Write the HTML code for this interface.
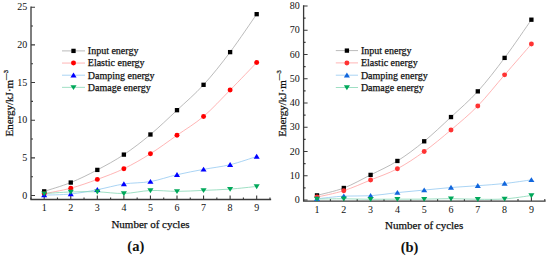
<!DOCTYPE html>
<html><head><meta charset="utf-8"><style>
html,body{margin:0;padding:0;background:#fff;width:550px;height:258px;overflow:hidden}
svg{display:block}
text{font-family:"Liberation Serif", serif;fill:#111;stroke:#111;stroke-width:0.25px}
</style></head><body>
<svg width="550" height="258" viewBox="0 0 550 258">
<rect width="550" height="258" fill="#fff"/>
<path d="M31.00,7.20 V199.50 H270.50" fill="none" stroke="#3a3a3a" stroke-width="1.3" stroke-linecap="square"/>
<text x="27.30" y="198.70" text-anchor="end" font-size="10" style="stroke:none">0</text>
<text x="27.30" y="161.05" text-anchor="end" font-size="10" style="stroke:none">5</text>
<text x="27.30" y="123.40" text-anchor="end" font-size="10" style="stroke:none">10</text>
<text x="27.30" y="85.75" text-anchor="end" font-size="10" style="stroke:none">15</text>
<text x="27.30" y="48.10" text-anchor="end" font-size="10" style="stroke:none">20</text>
<text x="27.30" y="10.45" text-anchor="end" font-size="10" style="stroke:none">25</text>
<text x="44.20" y="211.00" text-anchor="middle" font-size="10" style="stroke:none">1</text>
<text x="70.76" y="211.00" text-anchor="middle" font-size="10" style="stroke:none">2</text>
<text x="97.32" y="211.00" text-anchor="middle" font-size="10" style="stroke:none">3</text>
<text x="123.88" y="211.00" text-anchor="middle" font-size="10" style="stroke:none">4</text>
<text x="150.44" y="211.00" text-anchor="middle" font-size="10" style="stroke:none">5</text>
<text x="177.00" y="211.00" text-anchor="middle" font-size="10" style="stroke:none">6</text>
<text x="203.56" y="211.00" text-anchor="middle" font-size="10" style="stroke:none">7</text>
<text x="230.12" y="211.00" text-anchor="middle" font-size="10" style="stroke:none">8</text>
<text x="256.68" y="211.00" text-anchor="middle" font-size="10" style="stroke:none">9</text>
<path d="M31.00,195.50 h4.00 M31.00,176.68 h2.00 M31.00,157.85 h4.00 M31.00,139.03 h2.00 M31.00,120.20 h4.00 M31.00,101.38 h2.00 M31.00,82.55 h4.00 M31.00,63.72 h2.00 M31.00,44.90 h4.00 M31.00,26.07 h2.00 M31.00,7.25 h4.00 M44.20,199.50 v-4.00 M70.76,199.50 v-4.00 M97.32,199.50 v-4.00 M123.88,199.50 v-4.00 M150.44,199.50 v-4.00 M177.00,199.50 v-4.00 M203.56,199.50 v-4.00 M230.12,199.50 v-4.00 M256.68,199.50 v-4.00 M30.92,199.50 v-2.00 M57.48,199.50 v-2.00 M84.04,199.50 v-2.00 M110.60,199.50 v-2.00 M137.16,199.50 v-2.00 M163.72,199.50 v-2.00 M190.28,199.50 v-2.00 M216.84,199.50 v-2.00 M243.40,199.50 v-2.00 M269.96,199.50 v-2.00" fill="none" stroke="#3a3a3a" stroke-width="1.1"/>
<path d="M44.20,191.36 C48.63,189.89 61.91,186.13 70.76,182.55 C79.61,178.97 88.47,174.55 97.32,169.90 C106.17,165.24 115.03,160.51 123.88,154.61 C132.73,148.71 141.59,141.91 150.44,134.51 C159.29,127.10 168.15,118.47 177.00,110.19 C185.85,101.90 194.71,94.49 203.56,84.81 C212.41,75.13 221.27,63.90 230.12,52.13 C238.97,40.36 252.25,20.50 256.68,14.18" fill="none" stroke="#a4a4a4" stroke-width="0.75"/>
<path d="M44.20,193.69 C48.63,192.78 61.91,190.58 70.76,188.20 C79.61,185.81 88.47,182.64 97.32,179.39 C106.17,176.14 115.03,172.97 123.88,168.69 C132.73,164.41 141.59,159.28 150.44,153.71 C159.29,148.14 168.15,141.47 177.00,135.26 C185.85,129.05 194.71,123.97 203.56,116.44 C212.41,108.91 221.27,99.05 230.12,90.08 C238.97,81.11 252.25,67.18 256.68,62.60" fill="none" stroke="#ff9c9c" stroke-width="0.75"/>
<path d="M44.20,195.12 C48.63,194.94 61.91,194.90 70.76,193.99 C79.61,193.09 88.47,191.37 97.32,189.70 C106.17,188.03 115.03,185.33 123.88,183.98 C132.73,182.62 141.59,183.11 150.44,181.57 C159.29,180.03 168.15,176.75 177.00,174.72 C185.85,172.68 194.71,171.04 203.56,169.37 C212.41,167.70 221.27,166.85 230.12,164.70 C238.97,162.56 252.25,157.86 256.68,156.49" fill="none" stroke="#8ec6f0" stroke-width="0.75"/>
<path d="M44.20,193.62 C48.63,193.34 61.91,192.26 70.76,191.96 C79.61,191.66 88.47,191.56 97.32,191.81 C106.17,192.06 115.03,193.68 123.88,193.47 C132.73,193.25 141.59,190.88 150.44,190.53 C159.29,190.18 168.15,191.38 177.00,191.36 C185.85,191.33 194.71,190.76 203.56,190.38 C212.41,190.00 221.27,189.75 230.12,189.10 C238.97,188.45 252.25,186.90 256.68,186.46" fill="none" stroke="#7fd4b0" stroke-width="0.75"/>
<rect x="42.04" y="189.20" width="4.32" height="4.32" fill="#000000"/>
<rect x="68.60" y="180.39" width="4.32" height="4.32" fill="#000000"/>
<rect x="95.16" y="167.74" width="4.32" height="4.32" fill="#000000"/>
<rect x="121.72" y="152.45" width="4.32" height="4.32" fill="#000000"/>
<rect x="148.28" y="132.34" width="4.32" height="4.32" fill="#000000"/>
<rect x="174.84" y="108.02" width="4.32" height="4.32" fill="#000000"/>
<rect x="201.40" y="82.65" width="4.32" height="4.32" fill="#000000"/>
<rect x="227.96" y="49.97" width="4.32" height="4.32" fill="#000000"/>
<rect x="254.52" y="12.02" width="4.32" height="4.32" fill="#000000"/>
<circle cx="44.20" cy="193.69" r="2.48" fill="#ff0000"/>
<circle cx="70.76" cy="188.20" r="2.48" fill="#ff0000"/>
<circle cx="97.32" cy="179.39" r="2.48" fill="#ff0000"/>
<circle cx="123.88" cy="168.69" r="2.48" fill="#ff0000"/>
<circle cx="150.44" cy="153.71" r="2.48" fill="#ff0000"/>
<circle cx="177.00" cy="135.26" r="2.48" fill="#ff0000"/>
<circle cx="203.56" cy="116.44" r="2.48" fill="#ff0000"/>
<circle cx="230.12" cy="90.08" r="2.48" fill="#ff0000"/>
<circle cx="256.68" cy="62.60" r="2.48" fill="#ff0000"/>
<path d="M44.20,192.46 L47.24,197.33 L41.16,197.33 Z" fill="#0000ff"/>
<path d="M70.76,191.33 L73.80,196.20 L67.72,196.20 Z" fill="#0000ff"/>
<path d="M97.32,187.03 L100.36,191.91 L94.28,191.91 Z" fill="#0000ff"/>
<path d="M123.88,181.31 L126.92,186.19 L120.84,186.19 Z" fill="#0000ff"/>
<path d="M150.44,178.90 L153.48,183.78 L147.40,183.78 Z" fill="#0000ff"/>
<path d="M177.00,172.05 L180.04,176.93 L173.96,176.93 Z" fill="#0000ff"/>
<path d="M203.56,166.70 L206.60,171.58 L200.52,171.58 Z" fill="#0000ff"/>
<path d="M230.12,162.03 L233.16,166.91 L227.08,166.91 Z" fill="#0000ff"/>
<path d="M256.68,153.83 L259.72,158.70 L253.64,158.70 Z" fill="#0000ff"/>
<path d="M44.20,196.29 L47.24,191.41 L41.16,191.41 Z" fill="#00a85a"/>
<path d="M70.76,194.63 L73.80,189.75 L67.72,189.75 Z" fill="#00a85a"/>
<path d="M97.32,194.48 L100.36,189.60 L94.28,189.60 Z" fill="#00a85a"/>
<path d="M123.88,196.13 L126.92,191.26 L120.84,191.26 Z" fill="#00a85a"/>
<path d="M150.44,193.20 L153.48,188.32 L147.40,188.32 Z" fill="#00a85a"/>
<path d="M177.00,194.03 L180.04,189.15 L173.96,189.15 Z" fill="#00a85a"/>
<path d="M203.56,193.05 L206.60,188.17 L200.52,188.17 Z" fill="#00a85a"/>
<path d="M230.12,191.77 L233.16,186.89 L227.08,186.89 Z" fill="#00a85a"/>
<path d="M256.68,189.13 L259.72,184.26 L253.64,184.26 Z" fill="#00a85a"/>
<text x="150.50" y="227.50" text-anchor="middle" font-size="11.0">Number of cycles</text>
<text transform="translate(13.20,136.50) rotate(-90)" font-size="11.0">Energy/kJ&#183;m<tspan dy="-5.0" font-size="6.6">&#8212;3</tspan></text>
<path d="M62.00,50.90 H85.00" stroke="#a4a4a4" stroke-width="0.75"/>
<rect x="71.34" y="48.74" width="4.32" height="4.32" fill="#000000"/>
<text x="87.80" y="54.30" font-size="10">Input energy</text>
<path d="M62.00,63.05 H85.00" stroke="#ff9c9c" stroke-width="0.75"/>
<circle cx="73.50" cy="63.05" r="2.48" fill="#ff0000"/>
<text x="87.80" y="66.45" font-size="10">Elastic energy</text>
<path d="M62.00,75.20 H85.00" stroke="#8ec6f0" stroke-width="0.75"/>
<path d="M73.50,72.53 L76.54,77.41 L70.46,77.41 Z" fill="#0000ff"/>
<text x="87.80" y="78.60" font-size="10">Damping energy</text>
<path d="M62.00,87.35 H85.00" stroke="#7fd4b0" stroke-width="0.75"/>
<path d="M73.50,90.02 L76.54,85.14 L70.46,85.14 Z" fill="#00a85a"/>
<text x="87.80" y="90.75" font-size="10">Damage energy</text>
<text x='135.80' y='251.00' text-anchor='middle' font-size='14.5' font-weight='bold' style='stroke:none;font-family:"Liberation Serif", serif'>(a)</text>
<path d="M303.60,6.00 V201.10 H545.00" fill="none" stroke="#3a3a3a" stroke-width="1.3" stroke-linecap="square"/>
<text x="299.80" y="203.20" text-anchor="end" font-size="10" style="stroke:none">0</text>
<text x="299.80" y="178.95" text-anchor="end" font-size="10" style="stroke:none">10</text>
<text x="299.80" y="154.70" text-anchor="end" font-size="10" style="stroke:none">20</text>
<text x="299.80" y="130.45" text-anchor="end" font-size="10" style="stroke:none">30</text>
<text x="299.80" y="106.20" text-anchor="end" font-size="10" style="stroke:none">40</text>
<text x="299.80" y="81.95" text-anchor="end" font-size="10" style="stroke:none">50</text>
<text x="299.80" y="57.70" text-anchor="end" font-size="10" style="stroke:none">60</text>
<text x="299.80" y="33.45" text-anchor="end" font-size="10" style="stroke:none">70</text>
<text x="299.80" y="9.20" text-anchor="end" font-size="10" style="stroke:none">80</text>
<text x="317.00" y="213.00" text-anchor="middle" font-size="10" style="stroke:none">1</text>
<text x="343.80" y="213.00" text-anchor="middle" font-size="10" style="stroke:none">2</text>
<text x="370.60" y="213.00" text-anchor="middle" font-size="10" style="stroke:none">3</text>
<text x="397.40" y="213.00" text-anchor="middle" font-size="10" style="stroke:none">4</text>
<text x="424.20" y="213.00" text-anchor="middle" font-size="10" style="stroke:none">5</text>
<text x="451.00" y="213.00" text-anchor="middle" font-size="10" style="stroke:none">6</text>
<text x="477.80" y="213.00" text-anchor="middle" font-size="10" style="stroke:none">7</text>
<text x="504.60" y="213.00" text-anchor="middle" font-size="10" style="stroke:none">8</text>
<text x="531.40" y="213.00" text-anchor="middle" font-size="10" style="stroke:none">9</text>
<path d="M303.60,200.00 h4.00 M303.60,187.88 h2.00 M303.60,175.75 h4.00 M303.60,163.62 h2.00 M303.60,151.50 h4.00 M303.60,139.38 h2.00 M303.60,127.25 h4.00 M303.60,115.12 h2.00 M303.60,103.00 h4.00 M303.60,90.88 h2.00 M303.60,78.75 h4.00 M303.60,66.62 h2.00 M303.60,54.50 h4.00 M303.60,42.38 h2.00 M303.60,30.25 h4.00 M303.60,18.12 h2.00 M303.60,6.00 h4.00 M317.00,201.10 v-4.00 M343.80,201.10 v-4.00 M370.60,201.10 v-4.00 M397.40,201.10 v-4.00 M424.20,201.10 v-4.00 M451.00,201.10 v-4.00 M477.80,201.10 v-4.00 M504.60,201.10 v-4.00 M531.40,201.10 v-4.00 M303.60,201.10 v-2.00 M330.40,201.10 v-2.00 M357.20,201.10 v-2.00 M384.00,201.10 v-2.00 M410.80,201.10 v-2.00 M437.60,201.10 v-2.00 M464.40,201.10 v-2.00 M491.20,201.10 v-2.00 M518.00,201.10 v-2.00 M544.80,201.10 v-2.00" fill="none" stroke="#3a3a3a" stroke-width="1.1"/>
<path d="M317.00,195.39 C321.47,194.16 334.87,191.41 343.80,188.00 C352.73,184.58 361.67,179.41 370.60,174.90 C379.53,170.39 388.47,166.56 397.40,160.96 C406.33,155.36 415.27,148.63 424.20,141.31 C433.13,134.00 442.07,125.39 451.00,117.06 C459.93,108.74 468.87,101.22 477.80,91.36 C486.73,81.50 495.67,69.84 504.60,57.90 C513.53,45.95 526.93,26.07 531.40,19.70" fill="none" stroke="#a4a4a4" stroke-width="0.75"/>
<path d="M317.00,197.09 C321.47,196.02 334.87,193.51 343.80,190.66 C352.73,187.81 361.67,183.65 370.60,179.99 C379.53,176.34 388.47,173.47 397.40,168.72 C406.33,163.97 415.27,157.97 424.20,151.50 C433.13,145.03 442.07,137.52 451.00,129.92 C459.93,122.32 468.87,115.08 477.80,105.91 C486.73,96.74 495.67,85.18 504.60,74.87 C513.53,64.56 526.93,49.21 531.40,44.07" fill="none" stroke="#ff9c9c" stroke-width="0.75"/>
<path d="M317.00,198.79 C321.47,198.34 334.87,196.63 343.80,196.12 C352.73,195.61 361.67,196.34 370.60,195.76 C379.53,195.17 388.47,193.55 397.40,192.60 C406.33,191.65 415.27,190.91 424.20,190.06 C433.13,189.21 442.07,188.24 451.00,187.51 C459.93,186.78 468.87,186.36 477.80,185.69 C486.73,185.03 495.67,184.48 504.60,183.51 C513.53,182.54 526.93,180.48 531.40,179.87" fill="none" stroke="#8ec6f0" stroke-width="0.75"/>
<path d="M317.00,199.03 C321.47,198.99 334.87,198.75 343.80,198.79 C352.73,198.83 361.67,199.21 370.60,199.27 C379.53,199.33 388.47,199.17 397.40,199.15 C406.33,199.13 415.27,199.23 424.20,199.15 C433.13,199.07 442.07,198.65 451.00,198.67 C459.93,198.69 468.87,199.23 477.80,199.27 C486.73,199.31 495.67,199.54 504.60,198.91 C513.53,198.28 526.93,196.08 531.40,195.51" fill="none" stroke="#7fd4b0" stroke-width="0.75"/>
<rect x="314.84" y="193.23" width="4.32" height="4.32" fill="#000000"/>
<rect x="341.64" y="185.83" width="4.32" height="4.32" fill="#000000"/>
<rect x="368.44" y="172.74" width="4.32" height="4.32" fill="#000000"/>
<rect x="395.24" y="158.80" width="4.32" height="4.32" fill="#000000"/>
<rect x="422.04" y="139.15" width="4.32" height="4.32" fill="#000000"/>
<rect x="448.84" y="114.90" width="4.32" height="4.32" fill="#000000"/>
<rect x="475.64" y="89.20" width="4.32" height="4.32" fill="#000000"/>
<rect x="502.44" y="55.73" width="4.32" height="4.32" fill="#000000"/>
<rect x="529.24" y="17.54" width="4.32" height="4.32" fill="#000000"/>
<circle cx="317.00" cy="197.09" r="2.48" fill="#ff3333"/>
<circle cx="343.80" cy="190.66" r="2.48" fill="#ff3333"/>
<circle cx="370.60" cy="179.99" r="2.48" fill="#ff3333"/>
<circle cx="397.40" cy="168.72" r="2.48" fill="#ff3333"/>
<circle cx="424.20" cy="151.50" r="2.48" fill="#ff3333"/>
<circle cx="451.00" cy="129.92" r="2.48" fill="#ff3333"/>
<circle cx="477.80" cy="105.91" r="2.48" fill="#ff3333"/>
<circle cx="504.60" cy="74.87" r="2.48" fill="#ff3333"/>
<circle cx="531.40" cy="44.07" r="2.48" fill="#ff3333"/>
<path d="M317.00,196.12 L320.04,201.00 L313.96,201.00 Z" fill="#1166dd"/>
<path d="M343.80,193.45 L346.84,198.33 L340.76,198.33 Z" fill="#1166dd"/>
<path d="M370.60,193.09 L373.64,197.96 L367.56,197.96 Z" fill="#1166dd"/>
<path d="M397.40,189.94 L400.44,194.81 L394.36,194.81 Z" fill="#1166dd"/>
<path d="M424.20,187.39 L427.24,192.27 L421.16,192.27 Z" fill="#1166dd"/>
<path d="M451.00,184.84 L454.04,189.72 L447.96,189.72 Z" fill="#1166dd"/>
<path d="M477.80,183.02 L480.84,187.90 L474.76,187.90 Z" fill="#1166dd"/>
<path d="M504.60,180.84 L507.64,185.72 L501.56,185.72 Z" fill="#1166dd"/>
<path d="M531.40,177.20 L534.44,182.08 L528.36,182.08 Z" fill="#1166dd"/>
<path d="M317.00,201.70 L320.04,196.82 L313.96,196.82 Z" fill="#00a85a"/>
<path d="M343.80,201.46 L346.84,196.58 L340.76,196.58 Z" fill="#00a85a"/>
<path d="M370.60,201.94 L373.64,197.06 L367.56,197.06 Z" fill="#00a85a"/>
<path d="M397.40,201.82 L400.44,196.94 L394.36,196.94 Z" fill="#00a85a"/>
<path d="M424.20,201.82 L427.24,196.94 L421.16,196.94 Z" fill="#00a85a"/>
<path d="M451.00,201.33 L454.04,196.46 L447.96,196.46 Z" fill="#00a85a"/>
<path d="M477.80,201.94 L480.84,197.06 L474.76,197.06 Z" fill="#00a85a"/>
<path d="M504.60,201.58 L507.64,196.70 L501.56,196.70 Z" fill="#00a85a"/>
<path d="M531.40,198.18 L534.44,193.31 L528.36,193.31 Z" fill="#00a85a"/>
<text x="424.20" y="229.20" text-anchor="middle" font-size="11.0">Number of cycles</text>
<text transform="translate(285.80,136.80) rotate(-90)" font-size="11.0">Energy/kJ&#183;m<tspan dy="-5.0" font-size="6.6">&#8212;3</tspan></text>
<path d="M335.80,50.60 H358.00" stroke="#a4a4a4" stroke-width="0.75"/>
<rect x="344.74" y="48.44" width="4.32" height="4.32" fill="#000000"/>
<text x="360.90" y="54.00" font-size="10">Input energy</text>
<path d="M335.80,62.90 H358.00" stroke="#ff9c9c" stroke-width="0.75"/>
<circle cx="346.90" cy="62.90" r="2.48" fill="#ff3333"/>
<text x="360.90" y="66.30" font-size="10">Elastic energy</text>
<path d="M335.80,75.20 H358.00" stroke="#8ec6f0" stroke-width="0.75"/>
<path d="M346.90,72.53 L349.94,77.41 L343.86,77.41 Z" fill="#1166dd"/>
<text x="360.90" y="78.60" font-size="10">Damping energy</text>
<path d="M335.80,87.50 H358.00" stroke="#7fd4b0" stroke-width="0.75"/>
<path d="M346.90,90.17 L349.94,85.29 L343.86,85.29 Z" fill="#00a85a"/>
<text x="360.90" y="90.90" font-size="10">Damage energy</text>
<text x='409.60' y='251.50' text-anchor='middle' font-size='14.5' font-weight='bold' style='stroke:none;font-family:"Liberation Serif", serif'>(b)</text>
</svg>
</body></html>
